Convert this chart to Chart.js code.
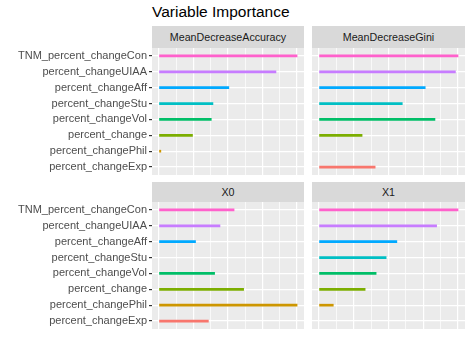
<!DOCTYPE html>
<html>
<head>
<meta charset="utf-8">
<script src="https://cdn.jsdelivr.net/npm/chart.js@4"></script>
<style>
  body { margin: 0; background: #fff; font-family: "Liberation Sans", Arial, sans-serif; }
  #wrap { position: relative; width: 474px; height: 338px; }
  .title { position: absolute; left: 152px; top: 3px; font-size: 15.5px; color: #000; }
  .strip { position: absolute; background: #D9D9D9; color: #1A1A1A; font-size: 10.7px;
           text-align: center; box-sizing: border-box; }
  .panel { position: absolute; }
</style>
</head>
<body>
<div id="wrap">
  <div class="title">Variable Importance</div>
  <div class="strip" style="left:152px;top:26px;width:152px;height:22px;line-height:22px;">MeanDecreaseAccuracy</div>
  <div class="strip" style="left:312px;top:26px;width:153px;height:22px;line-height:22px;">MeanDecreaseGini</div>
  <div class="strip" style="left:152px;top:182px;width:152px;height:20px;line-height:20px;">X0</div>
  <div class="strip" style="left:312px;top:182px;width:153px;height:20px;line-height:20px;">X1</div>
  <div class="panel" style="left:0;top:48px;width:304px;height:127px;"><canvas id="mda"></canvas></div>
  <div class="panel" style="left:312px;top:48px;width:153px;height:127px;"><canvas id="mdg"></canvas></div>
  <div class="panel" style="left:0;top:202px;width:304px;height:127px;"><canvas id="x0"></canvas></div>
  <div class="panel" style="left:312px;top:202px;width:153px;height:127px;"><canvas id="x1"></canvas></div>
</div>
<script>
// variables, top to bottom
const variables = [
  'TNM_percent_changeCon', 'percent_changeUIAA', 'percent_changeAff', 'percent_changeStu',
  'percent_changeVol', 'percent_change', 'percent_changePhil', 'percent_changeExp'
];
// importance scaled to the largest value in each facet
const mdaValues = [1.0, 0.847, 0.506, 0.391, 0.379, 0.243, 0.014, 0];
const mdgValues = [1.0, 0.981, 0.764, 0.599, 0.834, 0.31, 0, 0.404];
const x0Values = [0.544, 0.442, 0.265, 0, 0.403, 0.613, 1.0, 0.358];
const x1Values = [1.0, 0.846, 0.56, 0.483, 0.411, 0.332, 0.103, 0];
const xBreaks = [0, 0.125, 0.25, 0.375, 0.5, 0.625, 0.75, 0.875, 1.0];

// ggplot hue palette, one per variable
const colors = ['#FF61CC', '#C77CFF', '#00A9FF', '#00BFC4', '#00BE67', '#7CAE00', '#CD9600', '#F8766D'];

const panelBg = {
  id: 'panelBg',
  beforeDraw(chart) {
    const { ctx, chartArea: a } = chart;
    ctx.save();
    ctx.fillStyle = '#EBEBEB';
    ctx.fillRect(a.left, a.top, a.right - a.left, a.bottom - a.top);
    ctx.restore();
  }
};

function makePanel(id, values, showLabels) {
  new Chart(document.getElementById(id), {
    type: 'bar',
    data: {
      labels: variables,
      datasets: [{
        // zero-length segments are left out
        data: values.map(v => (v > 0 ? [0, v] : null)),
        backgroundColor: colors,
        borderWidth: 0,
        barThickness: 2
      }]
    },
    options: {
      indexAxis: 'y',
      responsive: true,
      maintainAspectRatio: false,
      animation: false,
      layout: { padding: 0 },
      plugins: { legend: { display: false }, tooltip: { enabled: false } },
      scales: {
        x: {
          min: -0.05,
          max: 1.05,
          afterBuildTicks: s => { s.ticks = xBreaks.map(v => ({ value: v })); },
          afterFit: s => { s.height = 0; s.paddingLeft = 0; s.paddingRight = 0; },
          ticks: { display: false },
          border: { display: false },
          grid: {
            color: '#FFFFFF',
            lineWidth: c => (c.index % 2 ? 0.7 : 1.2),
            drawTicks: false
          }
        },
        y: {
          afterFit: s => {
            s.width = showLabels ? 152 : 0;
            s.paddingTop = 0;
            s.paddingBottom = 0;
          },
          border: { display: false },
          grid: {
            offset: false,
            color: '#FFFFFF',
            lineWidth: 1.2,
            drawTicks: showLabels,
            tickLength: 3,
            tickColor: '#333333'
          },
          ticks: {
            display: showLabels,
            autoSkip: false,
            padding: 2,
            color: '#4D4D4D',
            font: { family: '"Liberation Sans", Arial, sans-serif', size: 11 }
          }
        }
      }
    },
    plugins: [panelBg]
  });
}

makePanel('mda', mdaValues, true);
makePanel('mdg', mdgValues, false);
makePanel('x0', x0Values, true);
makePanel('x1', x1Values, false);
</script>
</body>
</html>
